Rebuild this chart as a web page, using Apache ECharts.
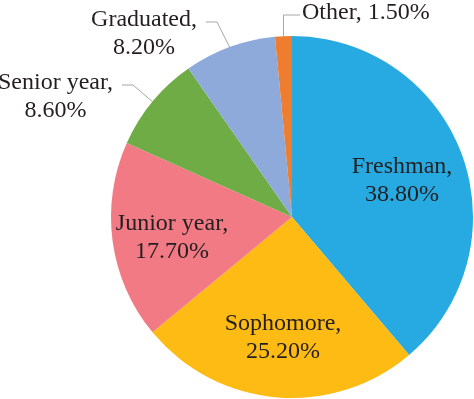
<!DOCTYPE html>
<html>
<head>
<meta charset="utf-8">
<script src="https://cdn.jsdelivr.net/npm/echarts@6/dist/echarts.min.js"></script>
<style>
    html, body { margin: 0; padding: 0; background: #fff; }
    #main-pie-chart { width: 474px; height: 399px; }
</style>
</head>
<body>
<div id="main-pie-chart"></div>
<script>
// 年级分布数据
var categories = ["Freshman", "Sophomore", "Junior year", "Senior year", "Graduated", "Other"];
var percents = [38.8, 25.2, 17.7, 8.6, 8.2, 1.5];

// 样式
var sliceColors = ["#27aae1", "#fdbb14", "#f27a84", "#6fac46", "#8eaadb", "#ee7d30"];
var insideLabel = [true, true, true, false, false, false];
// 标签位置 [x, y, align]
var labelSpots = [
    [402, 181, "center"],
    [283, 338, "center"],
    [172, 238, "center"],
    [113, 97, "right"],
    [197, 34, "right"],
    [302, 13, "left"]
];

var textColor = "#231f20";
var fontName = "Liberation Serif";
var fontSize = 24;
var lineH = 28;

function buildData() {
    var list = [];
    categories.forEach(function (name, i) {
        list.push({
            name: name,
            value: percents[i],
            itemStyle: {color: sliceColors[i]},
            label: {position: insideLabel[i] ? "inside" : "outside"},
            labelLine: {show: !insideLabel[i]}
        });
    });
    return list;
}

// 引导线: 扇区中点 -> 拐点 -> 标签
function leaderPoints(params, s) {
    var start = params.labelLinePoints ? params.labelLinePoints[0] : null;
    if (!start) {
        return null;
    }
    if (s[2] === "left") {
        var yl = s[1] + 2;
        return [start, [start[0], yl], [s[0] - 2, yl]];
    }
    var ly = s[1] - lineH / 2 + 2;
    var end = s[0] + 9;
    return [start, [end + 11, ly], [end, ly]];
}

function gradePie() {
    var pie = echarts.init(document.getElementById("main-pie-chart"));
    var option = {
        animation: false,
        series: [
            {
                type: "pie",
                center: [292, 217],
                radius: 181,
                startAngle: 90,
                clockwise: true,
                avoidLabelOverlap: false,
                emphasis: {disabled: true},
                itemStyle: {borderWidth: 0},
                data: buildData(),
                label: {
                    color: textColor,
                    fontFamily: fontName,
                    fontSize: fontSize,
                    lineHeight: lineH,
                    formatter: function (p) {
                        var pct = p.value.toFixed(2) + "%";
                        if (p.dataIndex === categories.length - 1) {
                            return "{t|" + p.name + ", " + pct + "}";
                        }
                        return "{t|" + p.name + ",}\n{t|" + pct + "}";
                    },
                    rich: {
                        t: {
                            align: "center",
                            color: textColor,
                            fontFamily: fontName,
                            fontSize: fontSize,
                            lineHeight: lineH
                        }
                    }
                },
                labelLine: {
                    length: 15,
                    length2: 9,
                    smooth: false,
                    lineStyle: {color: "#a6a6a6", width: 1}
                },
                labelLayout: function (params) {
                    var s = labelSpots[params.dataIndex];
                    var res = {x: s[0], y: s[1], align: s[2], verticalAlign: "middle"};
                    if (!insideLabel[params.dataIndex]) {
                        var pts = leaderPoints(params, s);
                        if (pts) {
                            res.labelLinePoints = pts;
                        }
                    }
                    return res;
                }
            }
        ]
    };
    pie.setOption(option);
}

gradePie();
</script>
</body>
</html>
